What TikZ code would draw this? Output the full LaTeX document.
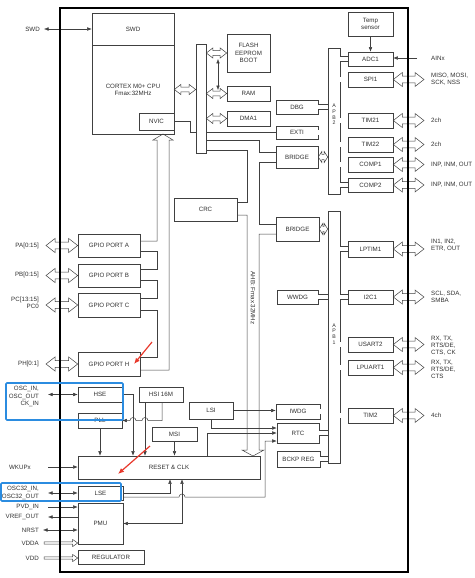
\documentclass[tikz,border=0pt]{standalone}
\usepackage{fontspec}
\setmainfont{Liberation Sans}
\usetikzlibrary{arrows.meta,calc}

\definecolor{linec}{HTML}{404040}
\definecolor{textc}{HTML}{303030}
\definecolor{markblue}{HTML}{2B8CE0}
\definecolor{markred}{HTML}{E8392C}

\newcommand{\chipfont}{\fontsize{6.2}{7.2}\selectfont}
\newcommand{\busfont}{\fontsize{5.2}{5.8}\selectfont}

\tikzset{
  % hollow bus arrow, two heads: shaft half width, head half width, head length
  fat/.style n args={3}{to path={
      let \p1=(\tikztostart), \p2=(\tikztotarget),
          \n1={atan2(\y2-\y1,\x2-\x1)}, \n2={veclen(\x2-\x1,\y2-\y1)} in
      [shift={(\p1)}, rotate=\n1]
      (0pt,0pt) -- (#3,#2) -- (#3,#1) -- (\n2*1pt-#3,#1) -- (\n2*1pt-#3,#2)
      -- (\n2*1pt,0pt) -- (\n2*1pt-#3,-#2) -- (\n2*1pt-#3,-#1) -- (#3,-#1)
      -- (#3,-#2) -- cycle}},
  % same, one head
  fatone/.style n args={3}{to path={
      let \p1=(\tikztostart), \p2=(\tikztotarget),
          \n1={atan2(\y2-\y1,\x2-\x1)}, \n2={veclen(\x2-\x1,\y2-\y1)} in
      [shift={(\p1)}, rotate=\n1]
      (0pt,#1) -- (\n2*1pt-#3,#1) -- (\n2*1pt-#3,#2) -- (\n2*1pt,0pt)
      -- (\n2*1pt-#3,-#2) -- (\n2*1pt-#3,-#1) -- (0pt,-#1) -- cycle}}
}

\begin{document}
\begin{tikzpicture}[
    x=1pt, y=-1pt,
    >={Latex[length=4.5pt,width=3.6pt]},
    every node/.style={font=\chipfont, text=textc},
    box/.style={draw=linec, line width=0.6pt, fill=white, inner sep=1pt, align=center},
    per/.style={box, minimum width=45pt, minimum height=15pt},
    gpio/.style={box, minimum width=62pt, minimum height=23pt},
    osc/.style={box, minimum width=44pt, minimum height=15pt},
    bar/.style={draw=linec, line width=0.6pt, fill=white, inner sep=0pt},
    wire/.style={draw=linec, line width=0.5pt},
    sig/.style={wire, ->},
    tab/.style={draw=linec, line width=0.55pt, double=white, double distance=4.5pt},
    pinarrow/.style={wire, fat={3.3pt}{7pt}{9pt}},
    busarrow/.style={wire, fat={2.3pt}{5pt}{6.5pt}},
    brarrow/.style={wire, fat={2.6pt}{5.5pt}{3.5pt}},
    supply/.style={wire, fatone={1.2pt}{3.5pt}{5pt}},
    pinl/.style={anchor=east, align=right, inner sep=0pt},
    pinr/.style={anchor=west, align=left, inner sep=0pt},
    letters/.style={align=center, font=\busfont, inner sep=0pt},
    markbox/.style={draw=markblue, line width=1.6pt, rounded corners=1pt},
    markarrow/.style={draw=markred, line width=1.2pt, -{Latex[length=6pt,width=5pt]}}
  ]
  \useasboundingbox (0,0) rectangle (474,578);

  % Core
  \node[box, minimum width=82pt, minimum height=32pt] (swd) at (133,29) {SWD};
  \node[box, minimum width=82pt, minimum height=89pt] (cpu) at (133,89.5) {CORTEX M0+ CPU\\Fmax:32MHz};
  \node[box, minimum width=35pt, minimum height=17pt] (nvic) at (156.5,121.5) {NVIC};
  \node[bar, minimum width=10pt, minimum height=109pt] (ahb) at (201,98.5) {};
  \node[box, minimum width=43pt, minimum height=38pt] (flash) at (248.5,53) {FLASH\\EEPROM\\BOOT};
  \node[box, minimum width=43pt, minimum height=15pt] (ram) at (248.5,93.5) {RAM};
  \node[box, minimum width=43pt, minimum height=15pt] (dma) at (248.5,118.5) {DMA1};
  \node[box, minimum width=42pt, minimum height=14pt] (dbg) at (297,107) {DBG};
  \node[box, minimum width=42pt, minimum height=13pt] (exti) at (297,132.5) {EXTI};
  \node[box, minimum width=42pt, minimum height=22pt] (brapb2) at (297,157) {BRIDGE};
  \node[box, minimum width=63pt, minimum height=23pt] (crc) at (205.5,209.5) {CRC};
  \node[box, minimum width=43pt, minimum height=24pt] (brapb1) at (297.5,229) {BRIDGE};
  \node[box, minimum width=41pt, minimum height=14pt] (wwdg) at (297.5,297) {WWDG};
  \node[box, minimum width=44pt, minimum height=15pt] (iwdg) at (298,411.5) {IWDG};
  \node[box, minimum width=42pt, minimum height=20pt] (rtc) at (298,433) {RTC};
  \node[box, minimum width=43pt, minimum height=16pt] (bckp) at (298.5,459) {BCKP REG};
  \node[rotate=-90] (ahbtxt) at (253,298) {AHB: Fmax 32MHz};

  % APB buses
  \node[bar, minimum width=12pt, minimum height=146pt] (apb2) at (334,121) {};
  \node[letters] (apb2txt) at (334,114.5) {A\\P\\B\\2};
  \node[bar, minimum width=12pt, minimum height=252pt] (apb1) at (334,337) {};
  \node[letters] (apb1txt) at (334,334) {A\\P\\B\\1};

  % Peripherals
  \node[per, minimum height=24pt] (temp) at (370.5,24) {Temp\\sensor};
  \node[per, minimum height=14pt] (adc) at (370.5,59) {ADC1};
  \node[per] (spi) at (370.5,79.5) {SPI1};
  \node[per] (tim21) at (370.5,120.5) {TIM21};
  \node[per] (tim22) at (370.5,144.5) {TIM22};
  \node[per] (comp1) at (370.5,164.5) {COMP1};
  \node[per, minimum height=14pt] (comp2) at (370.5,185) {COMP2};
  \node[per, minimum height=16pt] (lptim) at (370.5,249) {LPTIM1};
  \node[per, minimum height=14pt] (i2c) at (370.5,297) {I2C1};
  \node[per] (usart) at (370.5,344.5) {USART2};
  \node[per] (lpuart) at (370.5,367.5) {LPUART1};
  \node[per] (tim2) at (370.5,415.5) {TIM2};

  \node[gpio] (gpioa) at (109,245.5) {GPIO PORT A};
  \node[gpio] (gpiob) at (109,275.5) {GPIO PORT B};
  \node[gpio, minimum height=24pt] (gpioc) at (109,305) {GPIO PORT C};
  \node[gpio, minimum height=24pt] (gpioh) at (109,364) {GPIO PORT H};

  % Clocks and power
  \node[osc] (hse) at (100,394.5) {HSE};
  \node[osc] (pll) at (100,420.5) {PLL};
  \node[osc] (hsi) at (161,394.5) {HSI 16M};
  \node[osc, minimum height=17pt] (lsi) at (211,410.5) {LSI};
  \node[osc, minimum width=45pt, minimum height=14pt] (msi) at (174.5,434) {MSI};
  \node[box, minimum width=182pt, minimum height=23pt] (reset) at (169,467.5) {RESET \& CLK};
  \node[osc, minimum width=45pt, minimum height=14pt] (lse) at (100.5,493) {LSE};
  \node[box, minimum width=45pt, minimum height=41pt] (pmu) at (100.5,523.5) {PMU};
  \node[box, minimum width=66pt, minimum height=14pt] (regulator) at (111,557) {REGULATOR};

  % Pins
  \node[pinl] (swdpin) at (40,29) {SWD};
  \node[pinl] (papin) at (39,246) {PA[0:15]};
  \node[pinl] (pbpin) at (39,275) {PB[0:15]};
  \node[pinl] (pcpin) at (39,303) {PC[13:15]\\PC0};
  \node[pinl] (phpin) at (39,364) {PH[0:1]};
  \node[pinl] (oscpin) at (39,396.5) {OSC\_IN,\\OSC\_OUT\\CK\_IN};
  \node[pinl] (wkup) at (31,467) {WKUPx};
  \node[pinl] (osc32pin) at (39,493) {OSC32\_IN,\\OSC32\_OUT};
  \node[pinl] (pvd) at (39,507) {PVD\_IN};
  \node[pinl] (vref) at (39,517) {VREF\_OUT};
  \node[pinl] (nrst) at (39,530) {NRST};
  \node[pinl] (vdda) at (39,543) {VDDA};
  \node[pinl] (vdd) at (39,558) {VDD};

  \node[pinr] (ainx) at (431,58) {AINx};
  \node[pinr] (spipin) at (431,79) {MISO, MOSI,\\SCK, NSS};
  \node[pinr] (tim21pin) at (431,120.5) {2ch};
  \node[pinr] (tim22pin) at (431,144.5) {2ch};
  \node[pinr] (comp1pin) at (431,164.5) {INP, INM, OUT};
  \node[pinr] (comp2pin) at (431,185) {INP, INM, OUT};
  \node[pinr] (lptimpin) at (431,245.5) {IN1, IN2,\\ETR, OUT};
  \node[pinr] (i2cpin) at (431,297) {SCL, SDA,\\SMBA};
  \node[pinr] (usartpin) at (431,346) {RX, TX,\\RTS/DE,\\CTS, CK};
  \node[pinr] (lpuartpin) at (431,369.5) {RX, TX,\\RTS/DE,\\CTS};
  \node[pinr] (tim2pin) at (431,415.5) {4ch};

  \coordinate (pinR) at (424,0);
  \coordinate (pinL) at (46,0);
  \coordinate (sigL) at (48,0);
  \coordinate (fl) at (218,59);
  \coordinate (rm) at (218,90);
  \coordinate (xhse) at (133,0);
  \coordinate (xhsi) at (145,0);
  \coordinate (xpll) at (162,0);
  \coordinate (xlse) at (170,0);
  \coordinate (xpmu) at (182,0);
  \coordinate (xrtc) at (207,0);

  % Bus connections
  \draw[busarrow] (cpu.east) to (cpu.east -| ahb.west);
  \foreach \m in {flash,ram,dma}
    \draw[busarrow] (\m.west -| ahb.east) to (\m.west);
  \draw[wire,<->] (fl) -- (rm);
  \draw[wire] (nvic.east) -- ++(16,0) |- (exti.west -| ahb.west);
  \draw[wire] (exti.west -| ahb.east) -- (exti.west);

  \draw[wire] (206,140) -- (259,140) -- (259,152) -- (276,152);
  \draw[wire] (276,162) -- (259,162) -- (259,224) -- (276,224);
  \draw[wire] (276,234) -- (259,234) -- (259,450) -- (264,450) -- (253,456)
    -- (242,450) -- (247,450) -- (247,215) -- (237,215);
  \draw[wire] (237,202) -- (247,202) -- (247,150) -- (206,150);

  \draw[wire] (140,241) -- (157,241) -- (157,140) -- (153,140) -- (163,134)
    -- (173,140) -- (169,140) -- (169,370) -- (140,370);
  \draw[wire] (140,251) -- (157,251) -- (157,269) -- (140,269);
  \draw[wire] (140,280) -- (157,280) -- (157,298) -- (140,298);
  \draw[wire] (140,310) -- (157,310) -- (157,357) -- (140,357);

  \foreach \q in {adc,spi,tim21,tim22,comp1,comp2}
    \draw[tab] (apb2.east |- \q.west) -- (\q.west);
  \foreach \q in {dbg,exti}
    \draw[tab] (\q.east) -- (\q.east -| apb2.west);
  \foreach \q in {lptim,i2c,usart,lpuart,tim2}
    \draw[tab] (apb1.east |- \q.west) -- (\q.west);
  \foreach \q in {wwdg,iwdg,rtc,bckp}
    \draw[tab] (\q.east) -- (\q.east -| apb1.west);
  \draw[brarrow] (brapb2.east) to (brapb2.east -| apb2.west);
  \draw[brarrow] (brapb1.east) to (brapb1.east -| apb1.west);

  % Pin connections
  \foreach \q in {spi,tim21,tim22,comp1,comp2,lptim,i2c,usart,lpuart,tim2}
    \draw[pinarrow] (\q.east) to (\q.east -| pinR);
  \foreach \q in {gpioa,gpiob,gpioc,gpioh}
    \draw[pinarrow] (\q.west -| pinL) to (\q.west);
  \draw[sig] (temp.south) -- (adc.north);
  \draw[sig] ([xshift=-14pt]ainx.west) -- (ainx.west -| adc.east);
  \draw[wire,<->] ([xshift=4pt]swdpin.east) -- (swdpin.east -| swd.west);
  \draw[wire,<->] (sigL |- hse.west) -- (hse.west);
  \draw[wire,<->] (sigL |- lse.west) -- (lse.west);
  \draw[sig] (sigL |- wkup.east) -- (wkup.east -| reset.west);
  \draw[sig] (sigL |- pvd.east) -- (pvd.east -| pmu.west);
  \draw[sig] (vref.east -| pmu.west) -- (sigL |- vref.east);
  \draw[wire,<->] ([xshift=4pt]nrst.east) -- (nrst.east -| pmu.west);
  \draw[supply] ([xshift=5pt]vdda.east) to (vdda.east -| pmu.west);
  \draw[supply] ([xshift=5pt]vdd.east) to (vdd.east -| regulator.west);

  % Clock tree
  \draw[sig] (hse.east) -| (xhse |- reset.north);
  \draw[sig] (xhsi |- hsi.south) -- (xhsi |- reset.north);
  \draw[sig] (xpll |- hsi.south) -- (xpll |- pll.east) -- (148,420.5)
    arc[start angle=0, end angle=180, radius=3pt] -- (136,420.5)
    arc[start angle=0, end angle=180, radius=3pt] -- (pll.east);
  \draw[sig] (pll.south) -- (pll.south |- reset.north);
  \draw[sig] (msi.south) -- (msi.south |- reset.north);
  \draw[sig] (lsi.east) -- (lsi.east -| iwdg.west);
  \draw[sig] (lsi.south) |- ([yshift=5pt]rtc.west);
  \draw[sig] (xrtc |- reset.north) |- (rtc.west);
  \draw[sig] (lse.east) -| (xlse |- reset.south);
  \draw[sig] ([yshift=-4pt]lse.east) -- (179,497)
    arc[start angle=180, end angle=0, radius=3pt] -- (265,497) |- ([yshift=-8pt]rtc.west);
  \draw[wire,<->] (pmu.east) -| (xpmu |- reset.south);

  % Chip outline
  \draw[line width=1.1pt] (60,8) rectangle (408,572);

  % Marks
  \draw[markbox] (6,383) rectangle (123,420);
  \draw[markbox] (1,483) rectangle (121,501);
  \coordinate (redA) at (152,342);
  \coordinate (redB) at (134,364);
  \coordinate (redC) at (150,446);
  \coordinate (redD) at (118,474);
  \draw[markarrow] (redA) -- (redB);
  \draw[markarrow] (redC) -- (redD);
\end{tikzpicture}
\end{document}
